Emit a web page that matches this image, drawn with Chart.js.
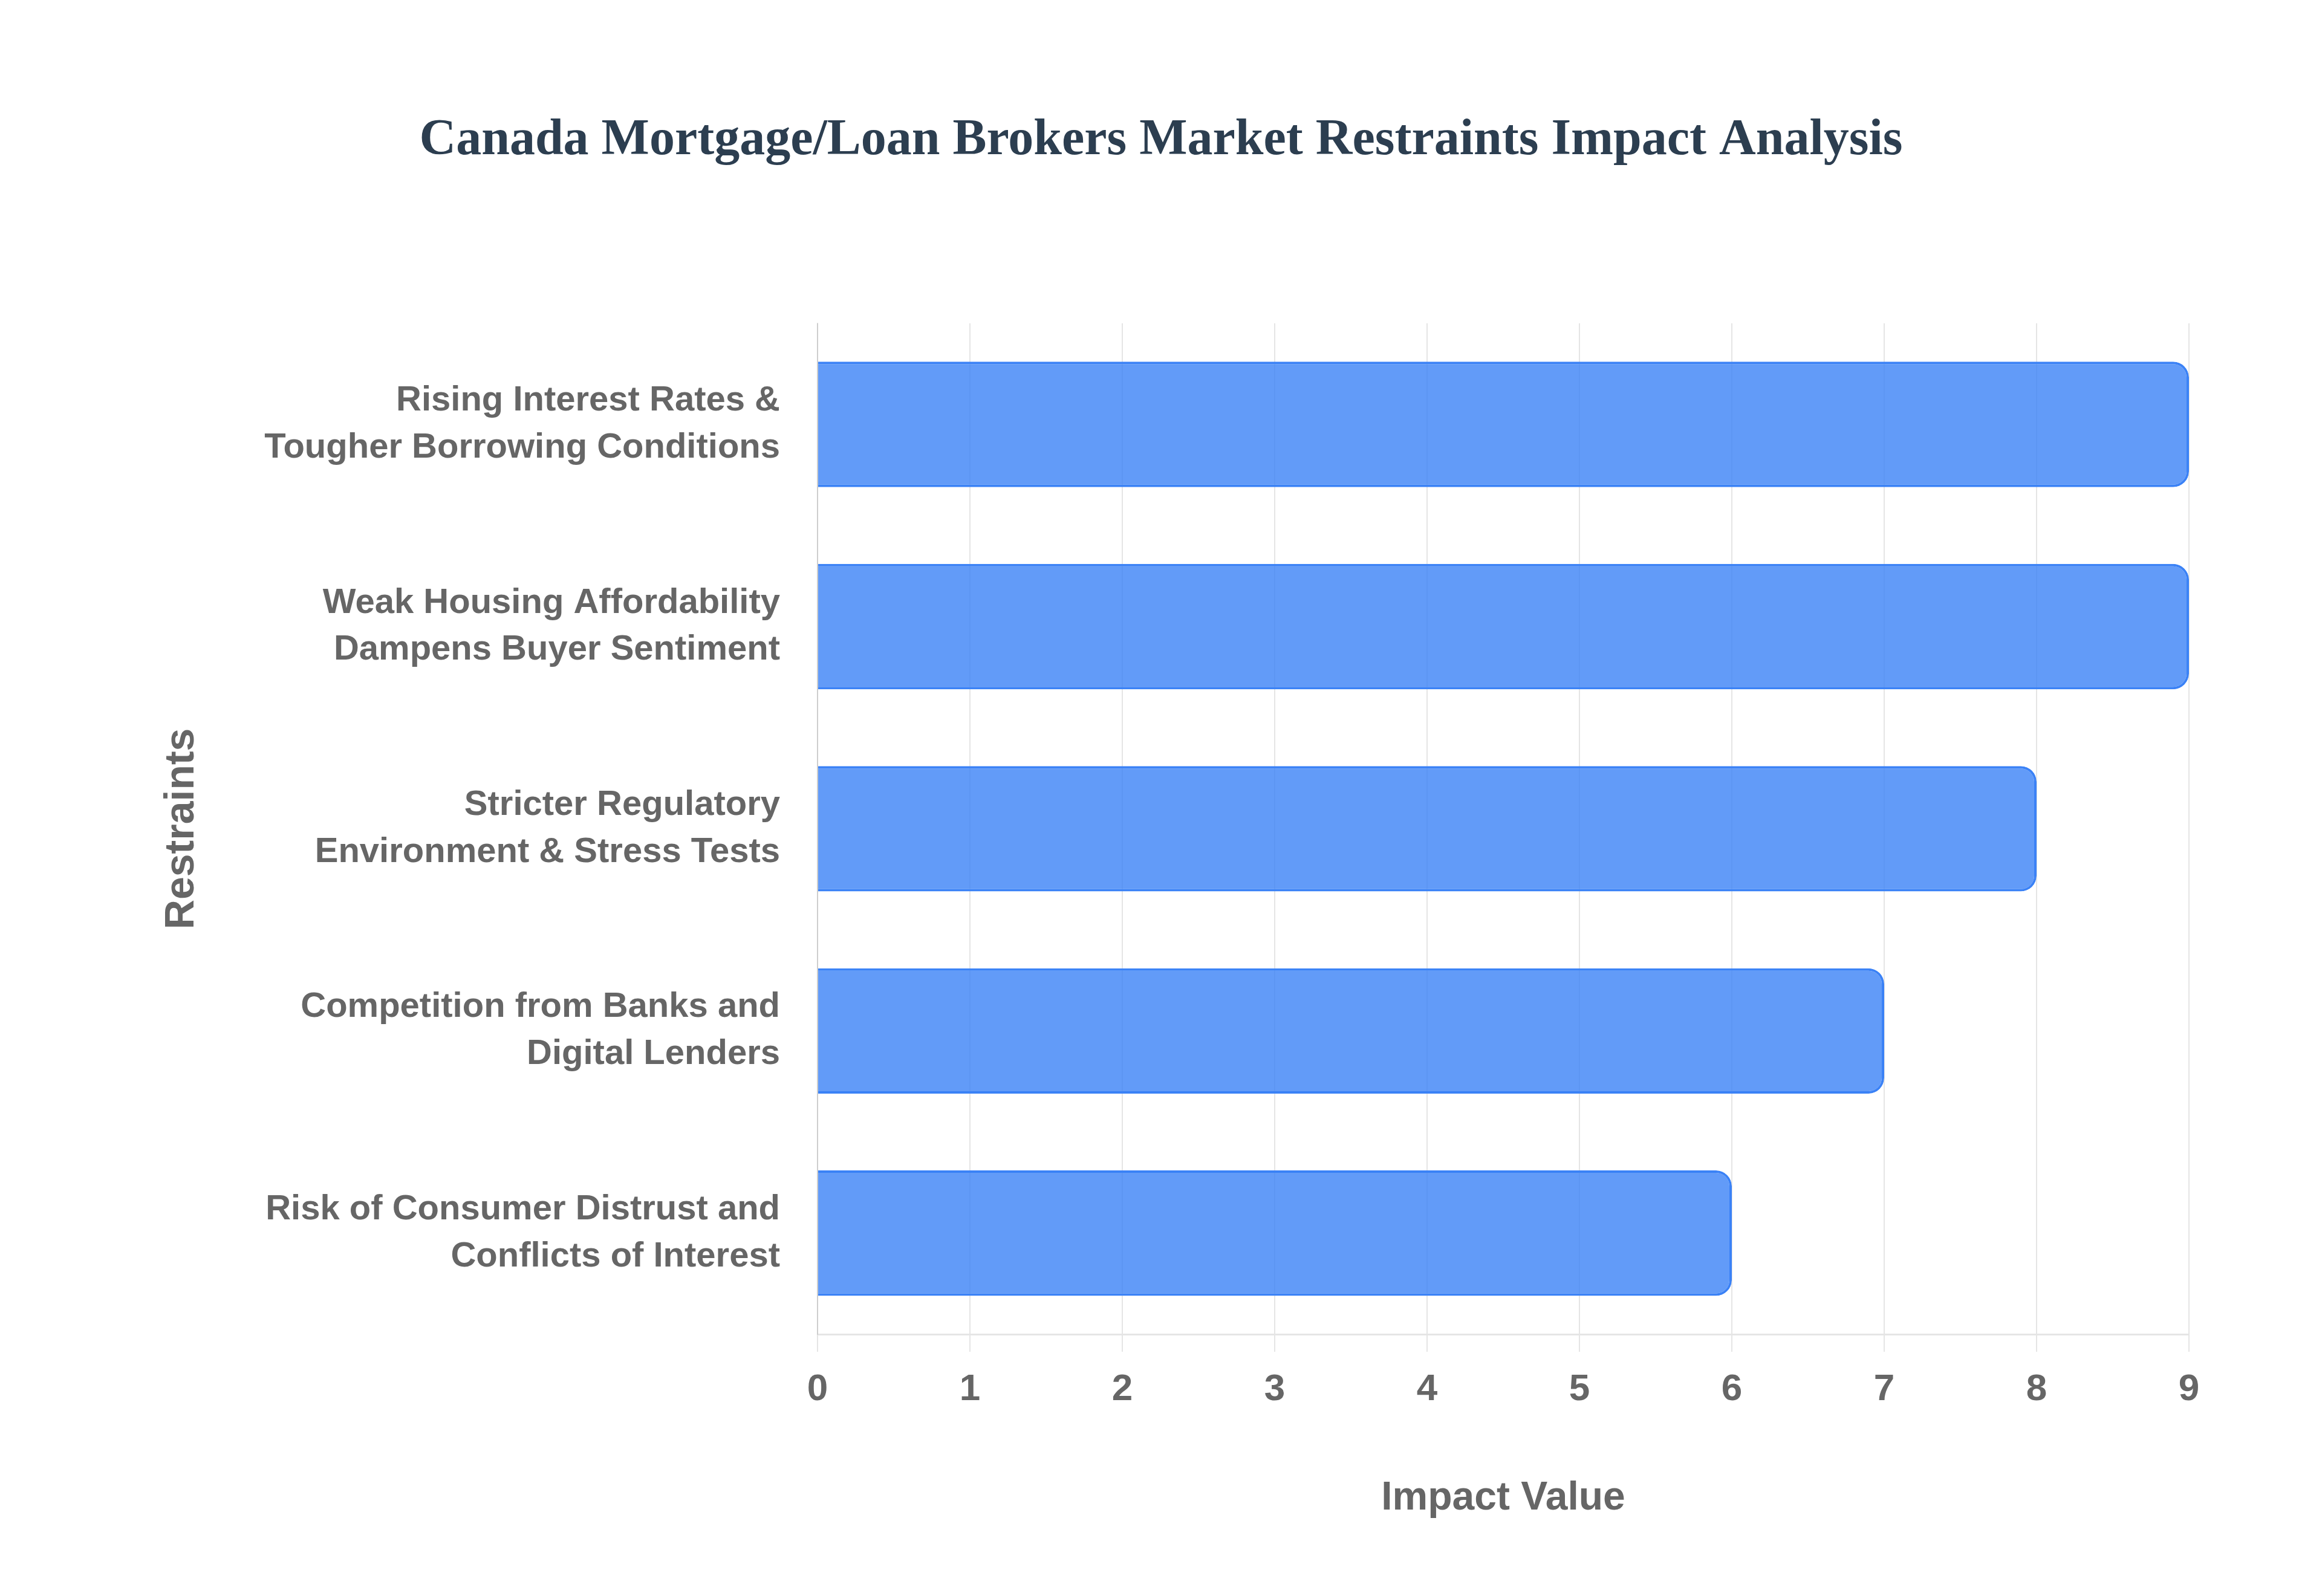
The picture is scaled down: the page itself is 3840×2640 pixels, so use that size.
<!DOCTYPE html>
<html>
<head>
<meta charset="utf-8">
<script src="https://cdn.jsdelivr.net/npm/chart.js@4.4.0/dist/chart.umd.min.js"></script>
<style>
  html, body { margin: 0; padding: 0; background: #ffffff; }
  canvas { display: block; }
</style>
</head>
<body>
<canvas id="chartrestraints" width="3840" height="2640" style="width:3840px;height:2640px"></canvas>
<script>
// Restraints (each label split in two lines like the reference)
var restraints = [
    ['Rising Interest Rates &', 'Tougher Borrowing Conditions'],
    ['Weak Housing Affordability', 'Dampens Buyer Sentiment'],
    ['Stricter Regulatory', 'Environment & Stress Tests'],
    ['Competition from Banks and', 'Digital Lenders'],
    ['Risk of Consumer Distrust and', 'Conflicts of Interest']
];
var impactValues = [9, 9, 8, 7, 6];
var impactTicks = [0, 1, 2, 3, 4, 5, 6, 7, 8, 9];

var gridColor = 'rgba(0,0,0,0.1)';
var textGray = '#666666';

var ctx = document.getElementById('chartrestraints').getContext('2d');
var barChart = new Chart(ctx, {
    type: 'bar',
    data: {
        labels: restraints,
        datasets: [{
            label: 'Impact Value',
            data: impactValues,
            backgroundColor: 'rgba(59,130,246,0.8)',
            borderColor: '#3b82f6',
            borderWidth: 4,
            borderRadius: 26,
            borderSkipped: 'start',
            categoryPercentage: 0.62,
            barPercentage: 1
        }]
    },
    options: {
        indexAxis: 'y',
        responsive: false,
        devicePixelRatio: 1,
        animation: false,
        layout: { padding: { left: 220, right: 220, top: 0, bottom: 0 } },
        plugins: {
            legend: { display: false },
            tooltip: { enabled: false },
            title: {
                display: true,
                text: 'Canada Mortgage/Loan Brokers Market Restraints Impact Analysis',
                color: '#2c3e50',
                font: { family: '"Liberation Serif", "Times New Roman", serif', size: 84, weight: 'bold' },
                padding: { top: 183, bottom: 251 }
            }
        },
        scales: {
            x: {
                min: impactTicks[0],
                max: impactTicks[impactTicks.length - 1],
                afterBuildTicks: function (scale) {
                    scale.ticks = impactTicks.map(function (v) { return { value: v }; });
                },
                afterFit: function (scale) { scale.height = 433; },
                grid: { color: gridColor, lineWidth: 2, tickLength: 29 },
                border: { color: gridColor, width: 3 },
                ticks: {
                    color: textGray,
                    padding: 26,
                    font: { family: '"Liberation Sans", Arial, sans-serif', size: 62, weight: 'bold' }
                },
                title: {
                    display: true,
                    text: 'Impact Value',
                    color: textGray,
                    padding: 122,
                    font: { family: '"Liberation Sans", Arial, sans-serif', size: 66, weight: 'bold' }
                }
            },
            y: {
                afterFit: function (scale) { scale.width = 1132; },
                grid: { display: false, drawTicks: false },
                border: { color: gridColor, width: 2 },
                ticks: {
                    color: textGray,
                    padding: 62,
                    font: { family: '"Liberation Sans", Arial, sans-serif', size: 58, weight: 'bold', lineHeight: 1.34 }
                },
                title: {
                    display: true,
                    text: 'Restraints',
                    color: textGray,
                    padding: 40,
                    font: { family: '"Liberation Sans", Arial, sans-serif', size: 68, weight: 'bold' }
                }
            }
        }
    }
});
</script>
</body>
</html>
